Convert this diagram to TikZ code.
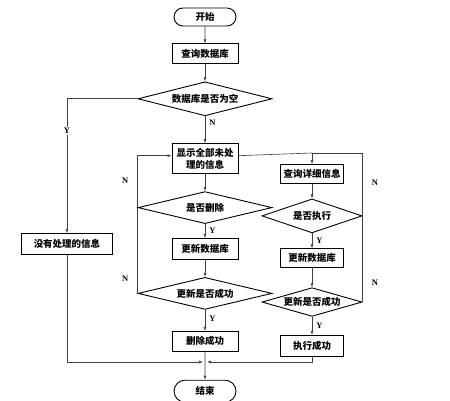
\documentclass[tikz,border=0pt]{standalone}
\usepackage{fontspec}
\newfontfamily\cjk{Noto Sans CJK SC}
\newfontfamily\latinlbl{Liberation Serif}
\usetikzlibrary{shapes.misc, shapes.geometric, positioning, arrows.meta}

\begin{document}
\begin{tikzpicture}[
    x=1pt, y=1pt,
    box/.style={rectangle, draw, line width=0.9pt, minimum width=66pt, minimum height=20pt,
                inner sep=2pt, align=center, font=\cjk\bfseries\fontsize{9.5}{12}\selectfont},
    term/.style={rounded rectangle, draw, line width=0.9pt, minimum width=66pt, minimum height=20pt,
                 inner sep=2pt, font=\cjk\bfseries\fontsize{9.5}{12}\selectfont},
    cond/.style={diamond, draw, line width=0.9pt, aspect=4, inner sep=1pt,
                 font=\cjk\bfseries\fontsize{9.5}{12}\selectfont},
    arrow/.style={-{Latex[length=4pt, width=3pt]}, line width=0.6pt, draw=black!75},
    line/.style={line width=0.6pt, draw=black!75},
    lbl/.style={font=\latinlbl\bfseries\fontsize{8.5}{10}\selectfont, inner sep=1pt},
]
\useasboundingbox (0,0) rectangle (450,-401);

%% NODES
    % main column
    \node[term, minimum height=18pt] (start) at (205,-17) {开始};
    \node[box, below=17pt of start] (query) {查询数据库};
    \node[cond, minimum width=134pt, minimum height=34pt, below=17pt of query] (isempty) {数据库是否为空};
    \node[box, minimum height=30pt, below=27pt of isempty] (show) {显示全部未处\\理的信息};
    \node[cond, minimum width=134pt, minimum height=32pt, below=17pt of show] (isdel) {是否删除};
    \node[box, minimum height=21pt, below=14pt of isdel] (upd_a) {更新数据库};
    \node[cond, minimum width=134pt, minimum height=32pt, below=17pt of upd_a] (ok_a) {更新是否成功};
    \node[box, below=21pt of ok_a] (delok) {删除成功};
    \node[term, minimum height=22pt, below=28pt of delok] (end) {结束};

    % right column
    \node[box, minimum width=63pt, minimum height=19pt] (detail) at (312,-174) {查询详细信息};
    \node[cond, minimum width=100pt, minimum height=34pt, below=14.5pt of detail] (isexec) {是否执行};
    \node[box, minimum width=63pt, minimum height=19pt, below=15pt of isexec] (upd_b) {更新数据库};
    \node[cond, aspect=3.4, minimum width=100pt, minimum height=28pt, below=19pt of upd_b] (ok_b) {更新是否成功};
    \node[box, minimum width=63pt, minimum height=21pt, below=18pt of ok_b] (execok) {执行成功};

    % left column
    \node[box, minimum width=91pt, minimum height=21pt] (noinfo) at (67,-244) {没有处理的信息};

    \coordinate (split) at (detail.north |- 0,-153);
    \coordinate (merge) at (end.north |- 0,-362);

%% CONNECTORS
    \draw[arrow] (start) -- (query);
    \draw[arrow] (query) -- (isempty);
    \draw[arrow] (isempty) -- node[lbl, right=3pt, pos=0.25] {N} (show);
    \draw[arrow] (isempty.west) -| node[lbl, fill=white, pos=0.62] {Y} (noinfo.north);

    \draw[arrow] (show) -- (isdel);
    \draw[arrow] (isdel) -- node[lbl, right=3pt] {Y} (upd_a);
    \draw[arrow] (upd_a) -- (ok_a);
    \draw[arrow] (ok_a) -- node[lbl, right=3pt, pos=0.4] {Y} (delok);
    \draw[arrow] (delok) -- (end);
    \draw[arrow] (ok_a.west) |- node[lbl, left=8pt, pos=0.055] {N} node[lbl, left=8pt, pos=0.41] {N} ([yshift=3pt]show.west);
    \draw[line] (isdel.west) -- (isdel.west |- ok_a.west);

    \draw[line] ([yshift=3pt]show.east) -- (split);
    \draw[arrow] (split) -- (detail);
    \draw[arrow] (detail) -- (isexec);
    \draw[arrow] (isexec) -- node[lbl, right=3pt] {Y} (upd_b);
    \draw[arrow] (upd_b) -- (ok_b);
    \draw[arrow] (ok_b) -- node[lbl, right=3pt] {Y} (execok);
    \draw[line] (ok_b.east) |- node[lbl, right=8pt, pos=0.065] {N} node[lbl, right=8pt, pos=0.40] {N} (split);
    \draw[line] (isexec.east) -- (isexec.east -| ok_b.east);

    \draw[arrow, shorten >=2pt] (noinfo.south) |- (merge);
    \draw[arrow, shorten >=2pt] (execok.south) |- (merge);

\end{tikzpicture}
\end{document}
